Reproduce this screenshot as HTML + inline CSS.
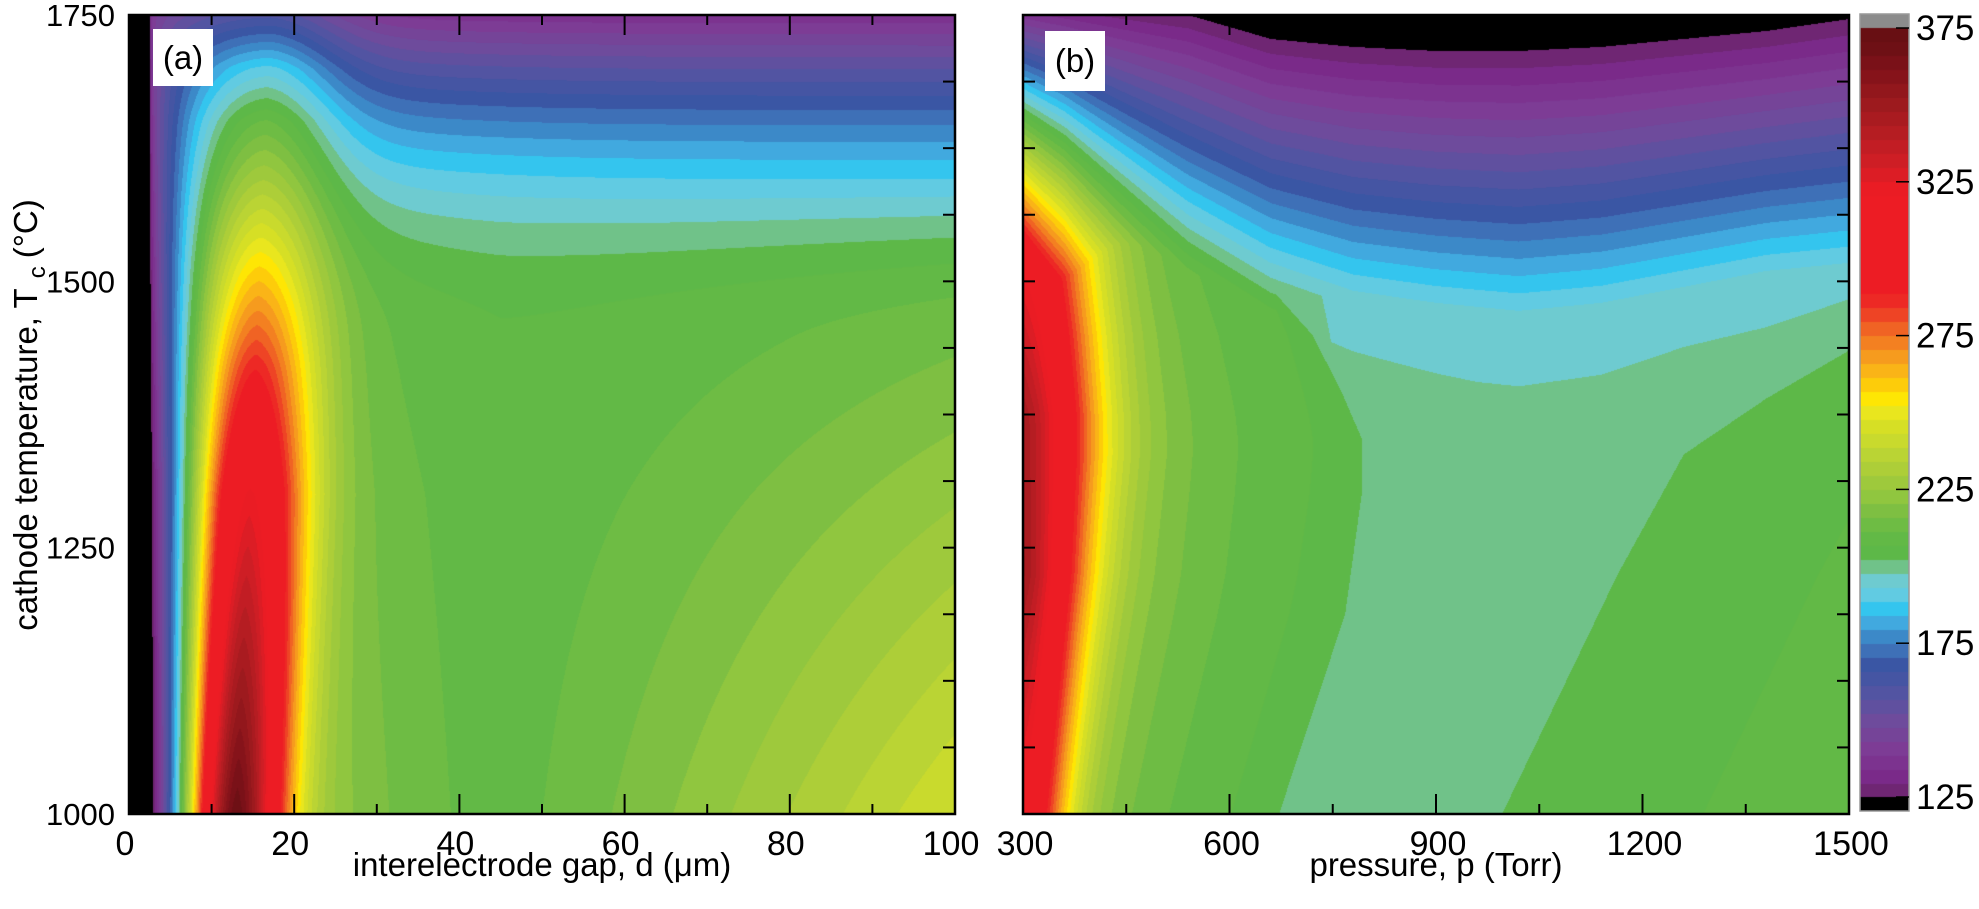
<!DOCTYPE html>
<html><head><meta charset="utf-8">
<style>
html,body{margin:0;padding:0;background:#fff;}
body{width:1979px;height:909px;position:relative;overflow:hidden;font-family:"Liberation Sans",Arial,sans-serif;}
canvas{position:absolute;}
svg{position:absolute;left:0;top:0;}
</style></head>
<body>
<canvas id="ca" width="826" height="799" style="left:129px;top:15px"></canvas>
<canvas id="cb" width="826" height="799" style="left:1023px;top:15px"></canvas>
<canvas id="cc" width="49" height="797" style="left:1860px;top:14px"></canvas>
<svg id="ov" width="1979" height="909" xmlns="http://www.w3.org/2000/svg" font-family="Liberation Sans, Arial, sans-serif">
<rect x="153" y="29" width="60" height="57" fill="#fff"/>
<text x="183" y="69" font-size="33" text-anchor="middle">(a)</text>
<rect x="1045" y="31" width="60" height="60" fill="#fff"/>
<text x="1075" y="72" font-size="33" text-anchor="middle">(b)</text>
<g id="axes"></g>
<text x="542" y="876" font-size="33" text-anchor="middle">interelectrode gap, d (μm)</text>
<text x="1436" y="876" font-size="33" text-anchor="middle">pressure, p (Torr)</text>
<text transform="translate(37,415) rotate(-90)" font-size="33" text-anchor="middle">cathode temperature, T<tspan font-size="24" dx="10" dy="8">c</tspan><tspan dx="8" dy="-8">(°C)</tspan></text>
</svg>
<script>
function hx(h){return [parseInt(h.substr(1,2),16),parseInt(h.substr(3,2),16),parseInt(h.substr(5,2),16)];}
var A=[[125,"#6a2468"],[132,"#7a2a8a"],[140,"#7e3b94"],[150,"#6e4b9c"],[160,"#4f55a3"],[168,"#3a55a3"],[172,"#3f6cb4"],[177,"#3b87c6"],[181,"#45a3dc"],[186,"#2fc4ef"],[190.5,"#60cbe4"],[195.5,"#6ecbd0"],[200,"#70c28a"],[204.5,"#5db848"],[209,"#62b946"],[213,"#6cbb44"],[218,"#7dbf42"],[222,"#8ec53f"],[227,"#9dc93c"],[231,"#aacd39"],[236,"#b8d335"],[240,"#c6d92f"],[245,"#d4de27"],[249,"#e2e31c"],[252,"#f4ea21"],[255,"#ffe500"],[260,"#fdc70c"],[265,"#f9ae1b"],[270,"#f5911f"],[275,"#f27323"],[280,"#ee5325"],[285,"#ed2e26"],[290,"#ed1c24"],[322,"#ed1c24"],[330,"#d41e25"],[340,"#b81d23"],[350,"#9e1a1e"],[360,"#84131a"],[370,"#6a0f14"],[376,"#650e12"]];
A=A.map(function(a){return [a[0],hx(a[1])];});
function interpC(v){
 if(v<=A[0][0])return A[0][1];
 for(var i=1;i<A.length;i++){if(v<=A[i][0]){var f=(v-A[i-1][0])/(A[i][0]-A[i-1][0]);var a=A[i-1][1],b=A[i][1];return [a[0]+(b[0]-a[0])*f,a[1]+(b[1]-a[1])*f,a[2]+(b[2]-a[2])*f];}}
 return A[A.length-1][1];
}
var BW=4.55,NB=55,BANDS=[];
for(var k=0;k<NB;k++)BANDS.push(interpC(125+BW*(k+0.5)));
function col(V){
 if(V<125)return [0,0,0];
 var k=Math.floor((V-125)/BW);
 if(k>=NB)return [140,140,140];
 return BANDS[k];
}
function tab(t,x){
 if(x<=t[0][0])return t[0][1];
 for(var i=1;i<t.length;i++){if(x<=t[i][0]){var f=(x-t[i-1][0])/(t[i][0]-t[i-1][0]);return t[i-1][1]+(t[i][1]-t[i-1][1])*f;}}
 return t[t.length-1][1];
}
function clamp(x,a,b){return x<a?a:(x>b?b:x);}
/* panel a */
var Ht=[[1000,370],[1300,322],[1420,288],[1520,255],[1600,228],[1650,212],[1700,190],[1750,160]];
function Ba(d,T){
 var tp=T>1450?70*Math.pow((T-1450)/300,2):0;
 var k=Math.max(0,0.7*(1-(T-1000)/600));
 return 205-tp+k*Math.max(0,d-45);
}
function Va(d,T){
 var c=13+2.5*(T-1000)/450;
 var H=tab(Ht,T);
 var wr=6+3*(T-1000)/750;
 if(d>=c){
  var x=d-c;
  var bc=Ba(c,T);
  return Ba(d,T)+(H-bc)*(0.75*Math.exp(-Math.pow(x/wr,2))+0.25*Math.exp(-x/14));
 } else {
  var s=(c-d)/(c-2.5);
  var g=Math.max(0,Math.exp(-Math.pow(s/0.7,2))-0.13*s);
  var p=Math.min(1,(H-118)/252);
  return 118+(H-118)*Math.pow(g,p);
 }
}
/* panel b */
var C193=[[0,0.1],[0.05,0.13],[0.1,0.17],[0.2,0.25],[0.3,0.31],[0.4,0.345],[0.5,0.36],[0.6,0.37],[0.7,0.36],[0.8,0.34],[0.9,0.32],[1,0.31]];
var C125=[[0,-0.02],[0.1,-0.01],[0.2,0],[0.3,0.03],[0.4,0.04],[0.5,0.045],[0.6,0.045],[0.7,0.04],[0.8,0.03],[0.9,0.02],[1,0.005]];
var CT=[[0.35,0.40],[0.4,0.42],[0.5,0.445],[0.55,0.455],[0.6,0.46],[0.7,0.445],[0.8,0.41],[0.9,0.385],[1,0.35]];
var UL=[[0,0],[0.25,0.22],[0.4,0.35],[0.47,0.385],[0.53,0.41],[0.6,0.41],[0.75,0.39],[1,0.31]];
var UR=[[0,1],[0.42,1],[0.48,0.9],[0.55,0.8],[0.7,0.72],[1,0.58]];
var AT=[[0,108],[0.3,140],[0.5,138],[0.7,110],[0.79,85],[0.845,50],[0.88,12],[0.9,0],[1,0]];
var FT=[[0,1],[0.45,1.6],[0.6,1.6],[0.8,1.5],[1,1.5]];
function Vb(u,v){
 var c1=tab(C193,u),c0=tab(C125,u);
 var up=193.2+68.2/(c1-c0)*(v-c1);
 var ul=tab(UL,v),ur=tab(UR,v);
 var G;
 if(u<ul)G=203+15*(ul-u);
 else if(u>ur)G=203+16*(u-ur);
 else G=195.5+4*clamp((v-tab(CT,u))*100,0,1);
 var t=1-v,Am=tab(AT,t),f=tab(FT,t);
 var R=Am*(0.65*Math.exp(-Math.pow(u/(0.055*f),2))+0.35*Math.exp(-u/(0.1*Math.sqrt(f))));
 return Math.min(up,G+R);
}
function paint(id,fn){
 var cv=document.getElementById(id),ctx=cv.getContext('2d');
 var W=cv.width,H=cv.height,img=ctx.createImageData(W,H),D=img.data;
 for(var y=0;y<H;y++)for(var x=0;x<W;x++){
  var c=fn(x,y,W,H),i=(y*W+x)*4;
  D[i]=c[0];D[i+1]=c[1];D[i+2]=c[2];D[i+3]=255;
 }
 ctx.putImageData(img,0,0);
}
paint('ca',function(x,y,W,H){return col(Va((x+0.5)/W*100,1750-(y+0.5)/H*750));});
paint('cb',function(x,y,W,H){return col(Vb((x+0.5)/W,(y+0.5)/H));});
paint('cc',function(x,y,W,H){var Y=y+14;var val=125+(797-Y)/3.076;if(Y>=797)return [0,0,0];if(Y<28)return [140,140,140];return col(val);});
/* axes */
(function(){
var g=document.getElementById('axes'),s='';
function L(x1,y1,x2,y2,w){s+='<line x1="'+x1+'" y1="'+y1+'" x2="'+x2+'" y2="'+y2+'" stroke="#000" stroke-width="'+(w||2)+'"/>';}
function T(x,y,txt,sz,anc){s+='<text x="'+x+'" y="'+y+'" font-size="'+sz+'" text-anchor="'+anc+'">'+txt+'</text>';}
var pt=15,pb=814;
[[129,955],[1023,1849]].forEach(function(p,pi){
 var x0=p[0],x1=p[1];
 for(var i=0;i<=12;i++){var y=pb-(pb-pt)*i/12;L(x0,y,x0+12,y);L(x1-12,y,x1,y);}
 var n=pi==0?10:8;
 for(var i=0;i<=n;i++){var x=x0+(x1-x0)*i/n;var len=(i%2==0)?20:10;L(x,pb,x,pb-len);L(x,pt,x,pt+len);}
 s+='<rect x="'+x0+'" y="'+pt+'" width="'+(x1-x0)+'" height="'+(pb-pt)+'" fill="none" stroke="#000" stroke-width="2.5"/>';
});
var yl=['1000','1250','1500','1750'];
for(var i=0;i<4;i++){T(115,pb-(pb-pt)*i/3+11,yl[i],31,'end');}
var xa=['0','20','40','60','80','100'];
for(var i=0;i<6;i++){T(129+826*i/5-4,855,xa[i],34,'middle');}
var xb=['300','600','900','1200','1500'];
for(var i=0;i<5;i++){T(1023+826*i/4+2,855,xb[i],34,'middle');}
s+='<rect x="1860" y="14" width="49" height="797" fill="none" stroke="#999" stroke-width="1.5"/>';
var cl=['125','175','225','275','325','375'];
for(var i=0;i<6;i++){var y=797-i*50*3.076;L(1896,y,1909,y,1.5);T(1916,y+12,cl[i],35,'start');}
g.innerHTML=s;
})();
</script>
</body></html>
